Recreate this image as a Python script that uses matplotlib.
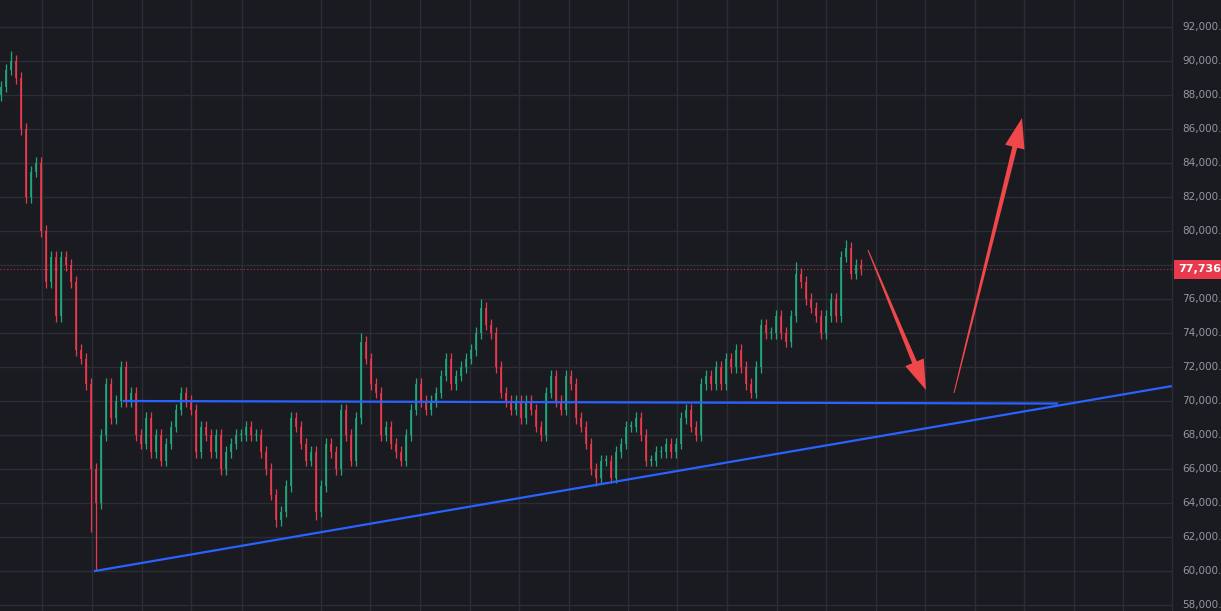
import matplotlib
matplotlib.use("Agg")
import matplotlib.pyplot as plt
from matplotlib.patches import Polygon
import numpy as np

# candle closes (thousands USD), one candle per 5 px of time axis
closes = [88.5,89.5,90,89,86,82,83.5,84,80,77,
          78.5,75,78.5,78,77,73,72.5,71,66,64,
          68,71,69,70,72,70,70.5,68,67.5,69,
          67,68,66.5,67.5,68.5,69.5,70.5,70,69.5,67,
          68.5,68,67,68,66,67,67.5,68,68,68.5,
          68,68,67,66,64.5,63,63.5,65,69,68.5,
          67.5,66.5,67,63.5,65,67.5,67,66,69.5,68,
          66.5,69,73.5,72.5,71,70.5,68,68.5,67.5,67,
          66.5,68,69.5,71,70,69.5,70,70.5,71.5,72.5,
          71,71.5,72,72.5,73,74,75.5,74.5,74,72,
          70.5,70,69.5,70,69,70,69.5,68.5,68,70.5,
          71.5,70,69.5,71.5,71,69,68.5,67.5,66,65.5,
          66.5,66.5,65.5,67,67.5,68.5,68.5,69,68,66.5,
          66.5,67,67,67.5,67,67.5,69,69.5,68.5,68,
          71,71.5,71,72,71,72.5,72,73,72,71,
          70.5,72,74.5,74,74,75,74,73.5,75,77.5,
          77,76,75.5,75,74,75,76,75,78.5,79,
          77.5,78,77.7363]
first_open = 88.0
high_overrides = {2: 90.6, 72: 74.0, 96: 76.0, 159: 78.2, 169: 79.5}
low_overrides = {19: 60.0, 18: 62.3, 55: 62.6, 63: 63.0, 119: 65.0}
last_price = 77736.3

yticks = list(range(58000, 93000, 2000))
vgrid = [42,92,142,191,242,321,370,420,470,519,569,628,677,727,777,826,876,925,975,1024,1074,1123]

bg = '#1a1b20'
red = '#e8394d'
green = '#22a77a'
blue = '#2962ff'
arrow_red = '#f0474b'

W, H = 1221, 611
fig = plt.figure(figsize=(W/100, H/100), dpi=100, facecolor=bg)
AX_W = 1172
ax = fig.add_axes([0, 0, AX_W/W, 1])
ax.set_facecolor(bg)
ax.set_xlim(0, AX_W)
ymin = 58000 - 6/17*1000
ymax = 92000 + 27/17*1000
ax.set_ylim(ymin, ymax)

for y in yticks:
    ax.axhline(y, color='#2b2e38', lw=1, zorder=0)
for x in vgrid:
    ax.axvline(x, color='#2b2e38', lw=1, zorder=0)

step = 5
opens = [first_open] + closes[:-1]
for i, (o, c) in enumerate(zip(opens, closes)):
    x = i*step + 1
    col = green if c >= o else red
    hi = high_overrides.get(i, max(o, c) + 0.35) * 1000
    lo = low_overrides.get(i, min(o, c) - 0.35) * 1000
    ax.vlines(x, lo, hi, color=col, lw=0.9, zorder=2)
    b0, b1 = min(o, c)*1000, max(o, c)*1000
    if b1 - b0 < 60:
        b1 = b0 + 60
    ax.bar(x, b1-b0, bottom=b0, width=2.6, color=col, lw=0, zorder=3, alpha=0.85)

# trend lines
ax.plot([124, 1057], [70000, 69850], color=blue, lw=1.6, zorder=4)
ax.plot([95, AX_W], [60000, 70880], color=blue, lw=1.6, zorder=4)

# last price line
ax.axhline(last_price, color=red, lw=0.8, ls=(0, (1, 2)), zorder=1, alpha=0.8)

ax.set_xticks([]); ax.set_yticks([])
for s in ax.spines.values():
    s.set_visible(False)

def tapered_arrow(x0, y0, x1, y1, tail_w=1.0, shaft_w=5.0, head_w=20, head_l=30):
    p0 = np.array([x0, H - y0], float)
    p1 = np.array([x1, H - y1], float)
    d = p1 - p0
    L = np.hypot(*d)
    u = d / L
    n = np.array([-u[1], u[0]])
    hb = p1 - u*head_l
    pts = [p0 + n*tail_w/2, hb + n*shaft_w/2, hb + n*head_w/2, p1,
           hb - n*head_w/2, hb - n*shaft_w/2, p0 - n*tail_w/2]
    fig.patches.append(Polygon(pts, closed=True, transform=None,
                               facecolor=arrow_red, edgecolor='none', zorder=10))

tapered_arrow(868, 250, 926, 390)
tapered_arrow(954, 393, 1022, 118)

for y in yticks:
    fy = (y - ymin) / (ymax - ymin)
    fig.text((AX_W + 10)/W, fy, f"{y:,.1f}", color='#9598a1', fontsize=7.5,
             va='center', ha='left')
fig.add_artist(plt.Line2D([AX_W/W, AX_W/W], [0, 1], color='#2b2e38', lw=1))
fy = (last_price - ymin) / (ymax - ymin)
fig.text((AX_W + 6)/W, fy, f"{last_price:,.1f}", color='white', fontsize=8,
         fontweight='bold', va='center', ha='left',
         bbox=dict(boxstyle='square,pad=0.4', fc=red, ec='none'))

fig.savefig('out.png', dpi=100, facecolor=bg)
